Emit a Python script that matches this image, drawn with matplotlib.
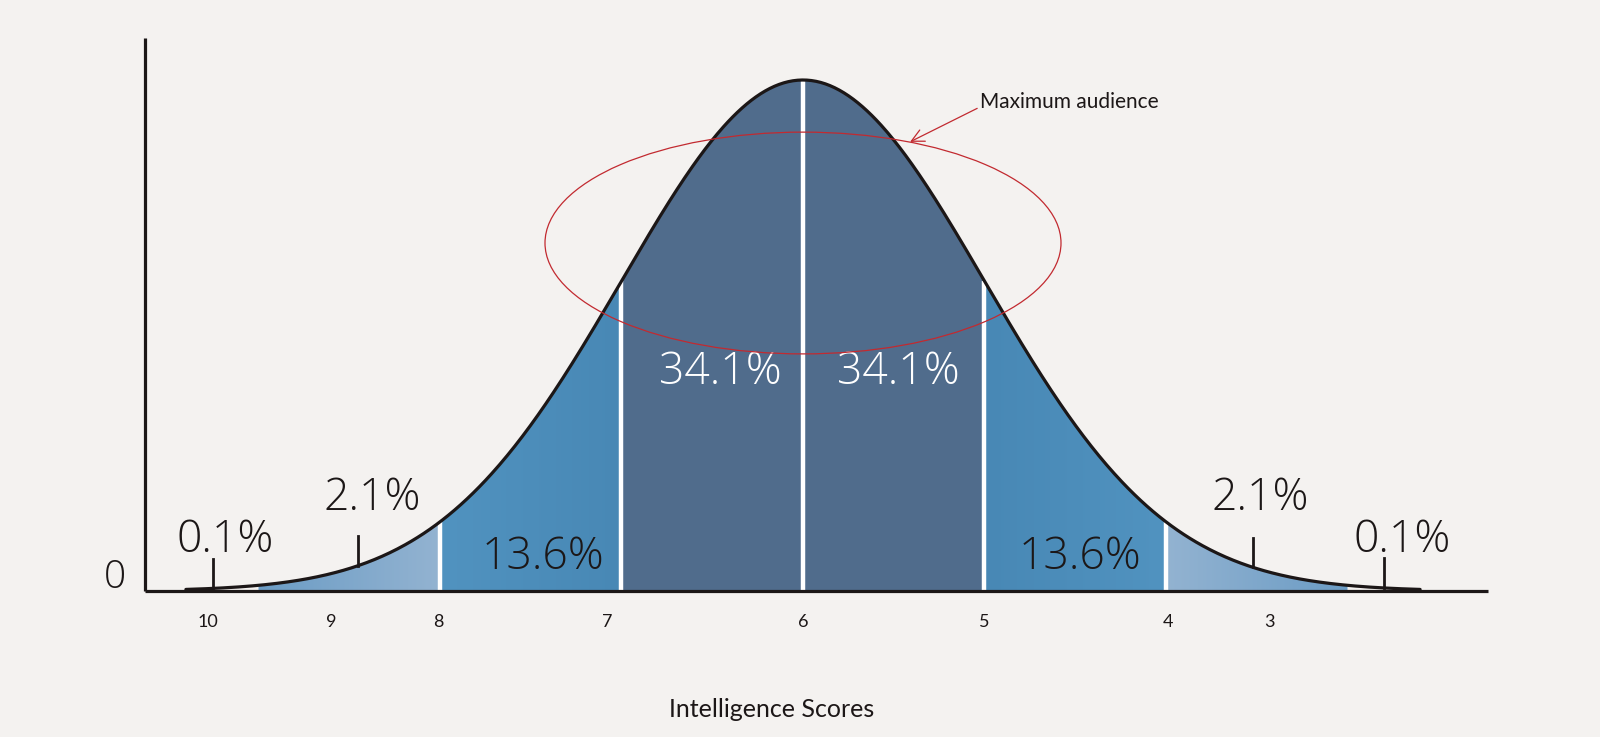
import matplotlib.pyplot as plt
import numpy as np
from matplotlib.patches import Ellipse, Polygon
from matplotlib.colors import LinearSegmentedColormap

# region boundaries in standard deviations and their share of scores
sigma_edges = [-3, -2, -1, 0, 1, 2, 3]
region_pcts = ["2.1%", "13.6%", "34.1%", "34.1%", "13.6%", "2.1%"]
tail_pct = "0.1%"

# score labels under the axis and where they sit (in sigma units)
score_labels = ["10", "9", "8", "7", "6", "5", "4", "3"]
score_pos = [-3.28, -2.60, -2.01, -1.08, 0.0, 1.0, 2.01, 2.57]

# small marker ticks under the percent labels of the tails
marker_pos = [-3.25, -2.45, 2.48, 3.20]

BG = "#f4f2f0"
DARK = "#506c8c"
INK = "#1c1717"

def bell(z):
    return np.exp(-np.asarray(z) ** 2 / 2.0)

fig = plt.figure(figsize=(16, 7.37), dpi=100, facecolor=BG)
ax = fig.add_axes([0, 0, 1, 1])
ax.set_facecolor(BG)
# 1 sigma = 181.5 px, peak = 511 px, mean at x=803 px, baseline 146 px from bottom
ax.set_xlim(-803 / 181.5, (1600 - 803) / 181.5)
ax.set_ylim(-146 / 511, (737 - 146) / 511)
ax.axis("off")

# shaded regions, with a soft horizontal gradient on the outer bands
grad_cols = {
    0: ("#6b9cc5", "#93b3d1"),   # -3..-2
    1: ("#5193c0", "#4888b5"),   # -2..-1
    4: ("#4888b5", "#5193c0"),   # 1..2
    5: ("#93b3d1", "#6b9cc5"),   # 2..3
}
for i in range(len(sigma_edges) - 1):
    a, b = sigma_edges[i], sigma_edges[i + 1]
    zz = np.linspace(a, b, 200)
    verts = np.column_stack([np.r_[a, zz, b], np.r_[0, bell(zz), 0]])
    if i in grad_cols:
        poly = Polygon(verts, closed=True, facecolor="none", edgecolor="none")
        ax.add_patch(poly)
        cmap = LinearSegmentedColormap.from_list("g%d" % i, grad_cols[i])
        im = ax.imshow(np.linspace(0, 1, 256)[None, :], cmap=cmap, aspect="auto",
                       extent=[a, b, 0, 1.0], origin="lower", zorder=1)
        im.set_clip_path(poly)
    else:
        ax.fill(verts[:, 0], verts[:, 1], color=DARK, lw=0, zorder=1)

# white separators at each sigma inside the curve
for e in sigma_edges[1:-1]:
    ax.plot([e, e], [0, bell(e)], color="white", lw=3.2, zorder=2, solid_capstyle="butt")

# bell curve
z = np.linspace(-3.4, 3.4, 800)
ax.plot(z, bell(z), color=INK, lw=2.3, zorder=4, solid_capstyle="round")

# axes lines
ax.plot([-3.625, 3.774], [0, 0], color=INK, lw=2.3, zorder=5, solid_capstyle="butt")
ax.plot([-3.625, -3.625], [0, 1.082], color=INK, lw=2.3, zorder=5, solid_capstyle="butt")

# tail marker ticks
for m in marker_pos:
    ax.plot([m, m], [bell(m), bell(m) + 0.058], color=INK, lw=2.0, zorder=5)

# percentage labels (baseline placed)
pct_font = dict(family=["Open Sans", "DejaVu Sans"], weight="light", fontsize=32)
pct_x = [-2.375, -1.432, -0.457, 0.523, 1.526, 2.518]
pct_y = [0.1585, 0.043, 0.405, 0.405, 0.043, 0.1585]
for i, (lab, px, py) in enumerate(zip(region_pcts, pct_x, pct_y)):
    col = "white" if i in (2, 3) else INK
    ax.text(px, py, lab, ha="center", va="baseline", color=col, zorder=6, **pct_font)
for px in (-3.185, 3.30):
    ax.text(px, 0.076, tail_pct, ha="center", va="baseline", color=INK, zorder=6, **pct_font)
ax.text(-3.79, 0.006, "0", ha="center", va="baseline", color=INK, zorder=6,
        family=["Open Sans", "DejaVu Sans"], weight="light", fontsize=28)

# score labels
for lab, p in zip(score_labels, score_pos):
    ax.text(p, -0.070, lab, ha="center", va="baseline", color=INK,
            family=["Lato", "DejaVu Sans"], fontsize=13)

ax.text(-0.171, -0.247, "Intelligence Scores", ha="center", va="baseline", color=INK,
        family=["Lato", "DejaVu Sans"], fontsize=18)

# highlight of the peak
ax.add_patch(Ellipse((0, 0.681), 2.843, 0.434, fill=False, edgecolor="#c22a30",
                     lw=0.9, zorder=7))
ax.annotate("Maximum audience", xy=(0.59, 0.879), xytext=(0.975, 0.957),
            ha="left", va="center", color=INK, fontsize=15,
            family=["Lato", "DejaVu Sans"], zorder=8,
            arrowprops=dict(arrowstyle="->,head_length=0.6,head_width=0.3",
                            color="#c22a30", lw=0.9, relpos=(0, 0.25),
                            shrinkA=0, shrinkB=0))

fig.savefig("out.png", dpi=100, facecolor=BG)
